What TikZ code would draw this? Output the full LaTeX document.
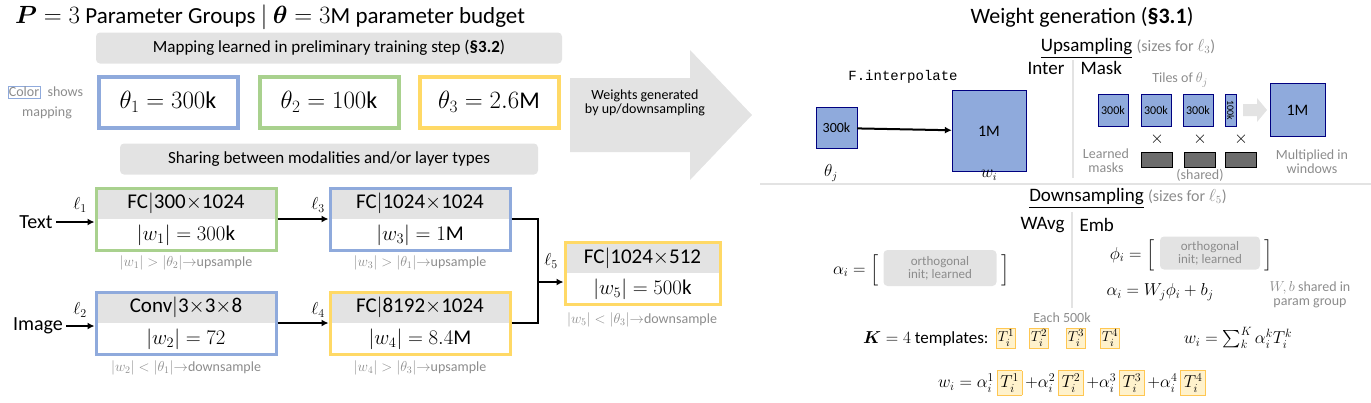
\documentclass[tikz,border=0pt]{standalone}
\usepackage{amsmath,bm}
\usepackage{fontspec}
\setmainfont{Carlito}
\setmonofont{Liberation Mono}
\usetikzlibrary{arrows.meta}
\definecolor{cb}{HTML}{8FAADC}
\definecolor{cg}{HTML}{A9D18E}
\definecolor{cy}{HTML}{FFD966}
\definecolor{lg}{HTML}{E3E3E3}
\definecolor{tg}{HTML}{8C8C8C}
\definecolor{ty}{HTML}{FFF2CC}
\newcommand{\fs}[1]{\fontsize{#1}{#1}\selectfont}
\tikzset{
 graybox/.style={fill=lg,rounded corners=4pt,inner sep=0pt},
 thbox/.style={draw=#1,line width=4pt,fill=white,minimum width=139pt,minimum height=51pt,inner sep=0pt},
 lay/.style={draw=#1,line width=3pt,minimum width=180pt,minimum height=62pt,inner sep=0pt},
 capt/.style={text=tg,font=\fs{14}},
 lbl/.style={font=\fs{20}},
 arr/.style={-{Latex[length=7pt,width=7pt]},line width=2pt},
 tile/.style={draw=blue!50!black,fill=cb,inner sep=0pt,font=\fs{12}},
 maskbox/.style={draw=black,fill=gray!85!black,minimum width=31pt,minimum height=15pt,inner sep=0pt},
 tbox/.style={draw=cy!80!orange,fill=ty,inner sep=1.5pt,font=\fs{15},minimum height=20pt},
}
\newcommand{\layer}[6]{% name cx cy color header body
 \fill[lg] (#2-90,#3-31) rectangle (#2+90,#3);
 \node[lay=#4] (#1) at (#2,#3) {};
 \node[font=\fs{21}] at (#2,#3-16) {#5};
 \node[font=\fs{21}] at (#2,#3+16) {#6};
}
\newcommand{\tb}[1]{\fcolorbox{cy!80!orange}{ty}{$#1$}}
\begin{document}
\begin{tikzpicture}[x=1pt,y=-1pt]
\useasboundingbox (0,0) rectangle (1371,402);
% title
\node[font=\fs{23}] (title) at (270,17) {$\bm{P}=3$ Parameter Groups $|$ $\bm{\theta}=3$M parameter budget};
\node[graybox,minimum width=466pt,minimum height=31pt,font=\fs{17}] (map) at (329,48) {Mapping learned in preliminary training step (\textbf{§3.2})};
\node[thbox=cb] (t1) at (168,102) {\fs{24}$\theta_1=300\mathrm{k}$};
\node[thbox=cg] (t2) at (329,102) {\fs{24}$\theta_2=100\mathrm{k}$};
\node[thbox=cy] (t3) at (489,102) {\fs{24}$\theta_3=2.6\mathrm{M}$};
\node[draw=cb,inner sep=1pt,text=tg,font=\fs{14}] (color) at (24,92) {Color};
\node[text=tg,font=\fs{14},anchor=west] (shows) at (44,92) {shows};
\node[text=tg,font=\fs{14}] (mapping) at (47,113) {mapping};
\node[graybox,minimum width=418pt,minimum height=31pt,font=\fs{17}] (share) at (329,159) {Sharing between modalities and/or layer types};
% big arrow
\fill[lg] (570,78) -- (690,78) -- (690,50) -- (752,115) -- (690,180) -- (690,152) -- (570,152) -- cycle;
\node[font=\fs{14},align=center] (wg) at (645,103) {Weights generated\\by up/downsampling};
% layers
\node[lbl] (text) at (36,222) {Text};
\node[lbl] (image) at (38,326) {Image};
\layer{l1}{186}{219}{cg}{FC$|$300$\times$1024}{$|w_1|=300\mathrm{k}$}
\layer{l3}{420}{219}{cb}{FC$|$1024$\times$1024}{$|w_3|=1\mathrm{M}$}
\layer{l2}{186}{323}{cb}{Conv$|$3$\times$3$\times$8}{$|w_2|=72$}
\layer{l4}{420}{323}{cy}{FC$|$8192$\times$1024}{$|w_4|=8.4\mathrm{M}$}
\fill[lg] (565,242) rectangle (720,273);
\node[lay=cy,minimum width=155pt] (l5) at (642.5,273) {};
\node[font=\fs{21}] at (642.5,258) {FC$|$1024$\times$512};
\node[font=\fs{21}] at (642.5,289) {$|w_5|=500\mathrm{k}$};
\node[capt] at (186,263) {$|w_1|>|\theta_2|$$\rightarrow$upsample};
\node[capt] at (420,263) {$|w_3|>|\theta_1|$$\rightarrow$upsample};
\node[capt] at (186,368) {$|w_2|<|\theta_1|$$\rightarrow$downsample};
\node[capt] at (420,368) {$|w_4|>|\theta_3|$$\rightarrow$upsample};
\node[capt] at (642,320) {$|w_5|<|\theta_3|$$\rightarrow$downsample};
\node[font=\fs{17}] at (80,205) {$\ell_1$};
\node[font=\fs{17}] at (80,310) {$\ell_2$};
\node[font=\fs{17}] at (318,205) {$\ell_3$};
\node[font=\fs{17}] at (318,310) {$\ell_4$};
\node[font=\fs{17}] at (551,261) {$\ell_5$};
\draw[arr] (text.east) -- (l1.west|-text.east);
\draw[arr] (image.east) -- (l2.west|-image.east);
\draw[arr] (l1) -- (l3);
\draw[arr] (l2) -- (l4);
\coordinate (j) at (538,282);
\draw[line width=2pt] (l3.east) -| (j);
\draw[line width=2pt] (l4.east) -| (j);
\draw[arr] (j) -- (l5.west|-j);
% right: weight generation
\node[font=\fs{22}] (wgt) at (1082,17) {Weight generation (\textbf{§3.1})};
\node[font=\fs{19}] (ups) at (1128,48) {\underline{Upsampling} {\color{tg}\fs{16}(sizes for $\ell_3$)}};
\node[font=\fs{19},anchor=east] (inter) at (1068,68) {Inter};
\node[font=\fs{19},anchor=west] (maskl) at (1077,68) {Mask};
\draw[lg,line width=1.5pt] (1073,60) -- (1073,178);
\node[font=\ttfamily\fs{14}] (fint) at (903,77) {F.interpolate};
\node[tile,minimum width=41pt,minimum height=41pt,font=\fs{14}] (s300) at (836.5,128) {300k};
\node[tile,minimum width=74pt,minimum height=81pt,font=\fs{16}] (s1m) at (989,131) {1M};
\draw[arr] (s300) -- (s1m);
\node[font=\fs{16}] at (831,173) {$\theta_j$};
\node[font=\fs{16}] at (989,175) {$w_i$};
\node[text=tg,font=\fs{14}] at (1180,80) {Tiles of $\theta_j$};
\node[tile,minimum width=30pt,minimum height=32pt] (ta) at (1113,110) {300k};
\node[tile,minimum width=30pt,minimum height=32pt] (tb) at (1156,110) {300k};
\node[tile,minimum width=30pt,minimum height=32pt] (tc) at (1198,110) {300k};
\node[tile,minimum width=11pt,minimum height=32pt,font=\fs{10}] (td) at (1230.5,110) {\rotatebox{-90}{100k}};
\fill[lg] (1243,104) -- (1257,104) -- (1257,98) -- (1267,110) -- (1257,122) -- (1257,116) -- (1243,116) -- cycle;
\node[tile,minimum width=55pt,minimum height=53pt,font=\fs{16}] (big) at (1297.5,110) {1M};
\foreach \n/\x in {ma/1157,mb/1200,mc/1241}{
  \node[font=\fs{18}] at (\x,139) {$\times$};
  \node[maskbox] (\n) at (\x,160) {};
}
\node[text=tg,font=\fs{14},align=center] at (1106,161) {Learned\\masks};
\node[text=tg,font=\fs{14}] at (1200,175) {(shared)};
\node[text=tg,font=\fs{14},align=center] at (1312,162) {Multiplied in\\windows};
\draw[lg,line width=2pt] (760,184) -- (1371,184);
% downsampling
\node[font=\fs{19}] (dns) at (1128,198) {\underline{Downsampling} {\color{tg}\fs{16}(sizes for $\ell_5$)}};
\node[font=\fs{19},anchor=east] (wavg) at (1068,225) {WAvg};
\node[font=\fs{19},anchor=west] (emb) at (1076,225) {Emb};
\draw[lg,line width=1.5pt] (1072,212) -- (1072,308);
\node[font=\fs{18},anchor=east] at (882,270) {$\alpha_i=\Big[$};
\node[graybox,text=tg,font=\fs{13},align=center,minimum width=113pt,minimum height=36pt] (og1) at (940,268) {orthogonal\\init; learned};
\node[font=\fs{18},anchor=west] at (998,270) {$\Big]$};
\node[font=\fs{18},anchor=east] at (1158,255) {$\phi_i=\Big[$};
\node[graybox,text=tg,font=\fs{13},align=center,minimum width=100pt,minimum height=33pt] (og2) at (1210,253) {orthogonal\\init; learned};
\node[font=\fs{18},anchor=west] at (1261,255) {$\Big]$};
\node[font=\fs{18},anchor=west] at (1103,292) {$\alpha_i=W_j\phi_i+b_j$};
\node[text=tg,font=\fs{14},align=center] at (1310,295) {$W,b$ shared in\\param group};
\node[text=tg,font=\fs{14}] at (1062,318) {Each 500k};
\node[font=\fs{17},anchor=east] at (992,339) {$\bm{K}=4$ templates:};
\node[tbox] (T1) at (1006,338) {$T_i^1$};
\node[tbox] (T2) at (1039,338) {$T_i^2$};
\node[tbox] (T3) at (1076,338) {$T_i^3$};
\node[tbox] (T4) at (1110,338) {$T_i^4$};
\node[font=\fs{18}] at (1238,338) {$w_i=\sum_k^K\alpha_i^kT_i^k$};
\node[font=\fs{18}] (bot) at (1072,383) {$w_i=\alpha_i^1$\,\tb{T_i^1}\,$+\alpha_i^2$\,\tb{T_i^2}\,$+\alpha_i^3$\,\tb{T_i^3}\,$+\alpha_i^4$\,\tb{T_i^4}};
\end{tikzpicture}
\end{document}
